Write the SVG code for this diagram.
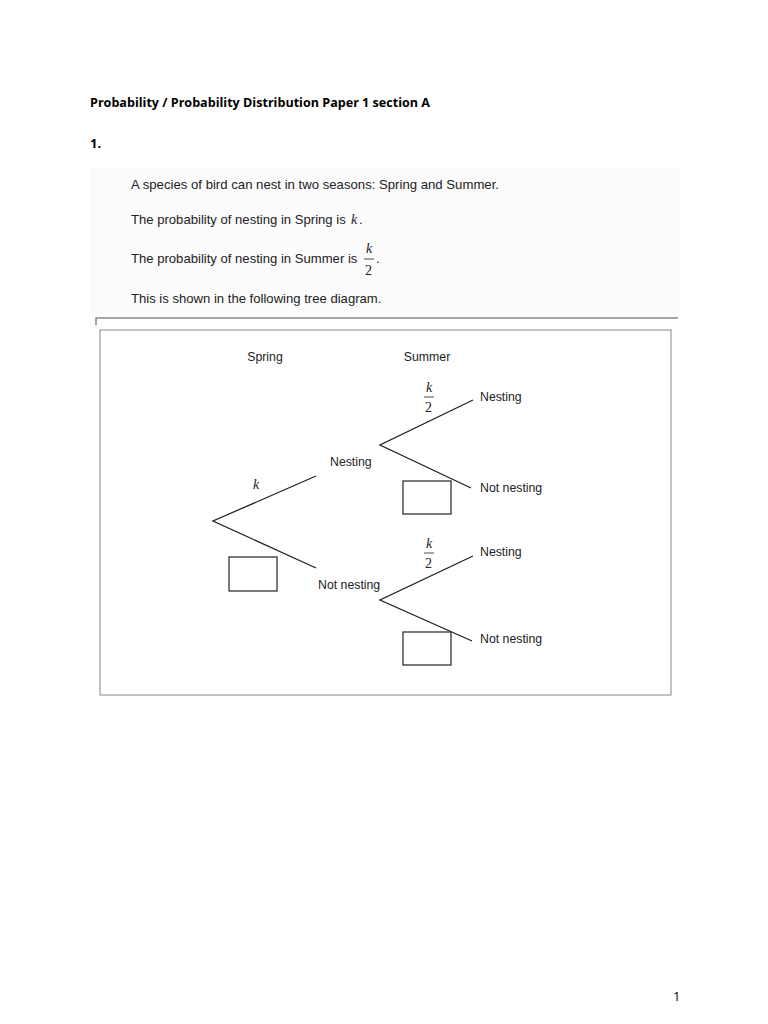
<svg xmlns="http://www.w3.org/2000/svg" width="768" height="1024" viewBox="0 0 768 1024">
<style>
.hd{font-family:"Open Sans","Liberation Sans",sans-serif;font-weight:bold;font-size:13px;fill:#000}
.t{font-family:"Liberation Sans",Arial,sans-serif;font-size:13.1px;fill:#222}
.n{font-family:"Liberation Sans",Arial,sans-serif;font-size:12.3px;fill:#222}
.m{font-family:"Liberation Serif","Times New Roman",serif;font-size:14px;fill:#222}
.l{stroke:#222;stroke-width:1.3;fill:none}
.bx{stroke:#333;stroke-width:1.3;fill:#fff}
.fb{stroke:#222;stroke-width:0.8}
</style>
<rect width="768" height="1024" fill="#fff"/>
<text class="hd" x="90" y="107" textLength="340" lengthAdjust="spacingAndGlyphs">Probability / Probability Distribution Paper 1 section A</text>
<text class="hd" x="90" y="148">1.</text>
<rect x="90" y="168" width="590" height="146" fill="#fbfbfb"/>
<g id="intro">
<text class="t" x="131" y="189" textLength="368" lengthAdjust="spacingAndGlyphs">A species of bird can nest in two seasons: Spring and Summer.</text>
<text class="t" x="131" y="224">The probability of nesting in Spring is</text>
<text class="m" x="351" y="224" font-style="italic">k</text>
<text class="t" x="359" y="224">.</text>
<text class="t" x="131" y="263">The probability of nesting in Summer is</text>
<text class="m" x="366" y="253" font-style="italic">k</text>
<line class="fb" x1="364" y1="259" x2="374" y2="259"/>
<text class="m" x="365" y="275">2</text>
<text class="t" x="376" y="263">.</text>
<text class="t" x="131" y="303">This is shown in the following tree diagram.</text>
</g>
<path d="M96 325 V318 H678" stroke="#888" stroke-width="1.5" fill="none"/>
<rect x="100" y="330" width="571" height="365" fill="none" stroke="#999" stroke-width="1.2"/>
<g id="headers">
<text class="n" x="265" y="361" text-anchor="middle">Spring</text>
<text class="n" x="427" y="361" text-anchor="middle">Summer</text>
</g>
<g id="connectors">
<polyline class="l" points="316,476 213,521 316,568"/>
<polyline class="l" points="473,400 380,445 471,488"/>
<polyline class="l" points="473,556 380,600 472,641"/>
</g>
<g id="root-labels">
<text class="m" x="253" y="489" font-style="italic">k</text>
<rect class="bx" x="229" y="557" width="48" height="34"/>
</g>
<g id="spring-nesting"><text class="n" x="330" y="466">Nesting</text></g>
<g id="spring-not-nesting"><text class="n" x="318" y="589">Not nesting</text></g>
<g id="upper-branch">
<text class="m" x="426" y="392" font-style="italic">k</text>
<line class="fb" x1="424" y1="397" x2="434" y2="397"/>
<text class="m" x="425" y="412">2</text>
<rect class="bx" x="403" y="481" width="48" height="33"/>
</g>
<g id="summer-nesting-1"><text class="n" x="480" y="401">Nesting</text></g>
<g id="summer-not-nesting-1"><text class="n" x="480" y="492">Not nesting</text></g>
<g id="lower-branch">
<text class="m" x="426" y="548" font-style="italic">k</text>
<line class="fb" x1="424" y1="553" x2="434" y2="553"/>
<text class="m" x="425" y="568">2</text>
<rect class="bx" x="403" y="632" width="48" height="33"/>
</g>
<g id="summer-nesting-2"><text class="n" x="480" y="556">Nesting</text></g>
<g id="summer-not-nesting-2"><text class="n" x="480" y="643">Not nesting</text></g>
<text x="673" y="1001" font-family="Open Sans, Liberation Sans, sans-serif" font-size="13" fill="#000">1</text>
</svg>
